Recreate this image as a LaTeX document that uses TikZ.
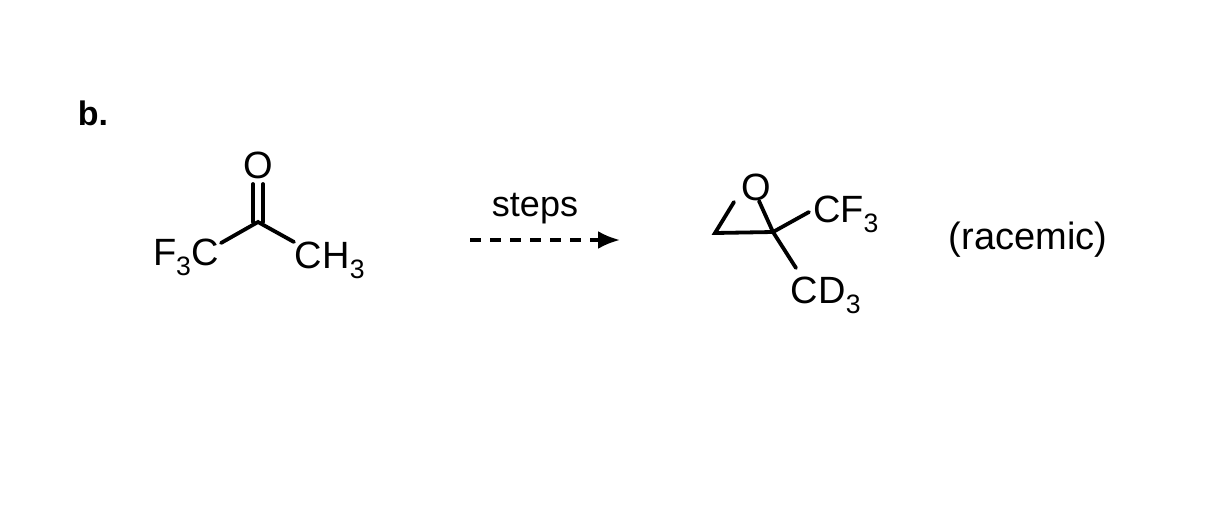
\documentclass[tikz,border=0pt]{standalone}
\usepackage{fontspec}
\setmainfont{Liberation Sans}
\usetikzlibrary{arrows.meta}
\begin{document}
\begin{tikzpicture}[x=1pt,y=-1pt,
  lbl/.style={inner sep=0pt,font=\fontsize{38}{44}\selectfont},
  bond/.style={line width=3.8pt,line cap=round}]
\useasboundingbox (0,0) rectangle (1222,504);
\node[inner sep=0pt,font=\fontsize{34}{40}\selectfont\bfseries] (b) at (93,113) {b.};
% ketone
\node[lbl] (o1) at (258,165) {O};
\node[lbl] (f3c) at (186,257) {F\textsubscript{3}C};
\node[lbl] (ch3) at (330,260) {CH\textsubscript{3}};
\coordinate (c1) at (258,222);
\coordinate (l1) at (221,243);
\coordinate (r1) at (294,242);
\draw[bond] (l1) -- (c1) -- (r1);
\draw[bond] ([xshift=-5]c1) -- ++(0,-38);
\draw[bond] ([xshift=5]c1) -- ++(0,-38);
% arrow
\node[lbl,font=\fontsize{36}{42}\selectfont] (st) at (535,209) {steps};
\coordinate (a1) at (470,240);
\coordinate (a2) at (620,240);
\draw[line width=3.5pt,dash pattern=on 11pt off 9pt,-{Latex[length=22pt,width=18pt]}] (a1) -- (a2);
% epoxide
\node[lbl] (o2) at (756,187) {O};
\coordinate (cl) at (715,233);
\coordinate (cq) at (773,232);
\coordinate (ol) at (734,202);
\coordinate (or) at (759,201);
\coordinate (bcf) at (809,212);
\coordinate (bcd) at (796,268);
\draw[bond] (ol) -- (cl) -- (cq) -- (or);
\draw[bond] (cq) -- (bcf);
\draw[bond] (cq) -- (bcd);
\node[lbl] (cf3) at (846,214) {CF\textsubscript{3}};
\node[lbl] (cd3) at (826,295) {CD\textsubscript{3}};
\node[lbl] (rac) at (1028,240) {(racemic)};
\end{tikzpicture}
\end{document}
